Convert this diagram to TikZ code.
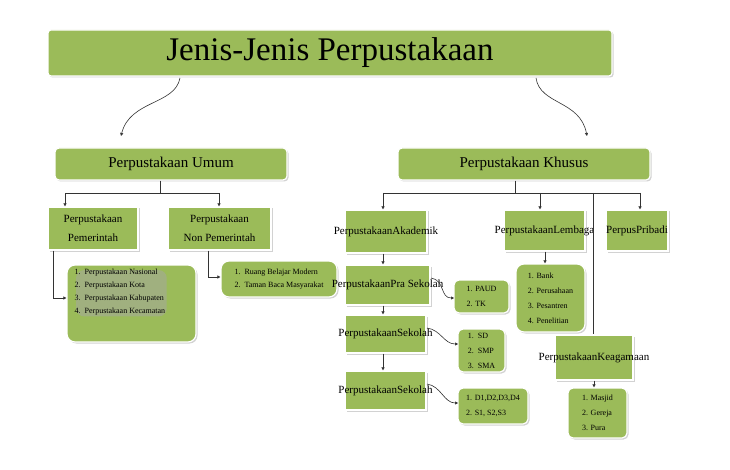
\documentclass[tikz,border=0pt]{standalone}
\usepackage{fontspec}
\setmainfont{Liberation Serif}
\usetikzlibrary{shadows,arrows.meta}
\definecolor{og}{HTML}{9BBB59}
\tikzset{
 box/.style={fill=og,draw=white,line width=1.2pt,drop shadow={shadow xshift=1.5pt,shadow yshift=-1.5pt,fill=black!35},inner sep=0pt,align=center},
 rbox/.style={box,rounded corners=8pt},
 lst/.style={rbox,align=left,font=\fontsize{8}{13}\selectfont},
 con/.style={draw=black!80,line width=0.6pt},
 arr/.style={con,-{Triangle[length=3pt,width=3pt]}},
}
\begin{document}
\begin{tikzpicture}[x=1pt,y=-1pt]
\useasboundingbox[fill=white] (0,0) rectangle (730,470);
\newcommand{\bx}[6]{\node[#1,minimum width=#4-#2,minimum height=#5-#3] (#6) at ({(#2+#4)/2},{(#3+#5)/2}) {};}
\bx{rbox,rounded corners=3pt}{48}{30}{612}{76}{title}
\node at (title) {\fontsize{33}{36}\selectfont Jenis-Jenis Perpustakaan};
\bx{rbox,rounded corners=4pt}{55}{148}{287}{180}{umum}
\node[font=\fontsize{15}{18}\selectfont] at (umum) {Perpustakaan Umum};
\bx{rbox,rounded corners=4pt}{398}{148}{650}{180}{khusus}
\node[font=\fontsize{15}{18}\selectfont] at (khusus) {Perpustakaan Khusus};
\path[arr] (180,78) .. controls (175,105) and (130,100) .. (121,136);
\path[arr] (536,78) .. controls (540,105) and (580,100) .. (587,136);
% umum children
\tikzset{bt/.style={font=\fontsize{11}{19}\selectfont}}
\bx{box}{48}{207}{138}{250}{pem} \node[bt,align=center] at (pem) {Perpustakaan\\Pemerintah};
\bx{box}{168}{207}{271}{250}{npem} \node[bt,align=center] at (npem) {Perpustakaan\\Non Pemerintah};
\coordinate (u1) at (160,193);
\path[con] (umum.south -| u1) -- (u1);
\path[arr] (u1) -| (pem.north -| 65,0);
\path[arr] (u1) -| (npem.north -| 219,0);
\bx{rbox}{67}{265}{196}{342}{pl}
\node[lst,fill=none,draw=none,drop shadow={opacity=0},anchor=north west] at (74,268) {1.\enspace Perpustakaan Nasional\\2.\enspace Perpustakaan Kota\\3.\enspace Perpustakaan Kabupaten\\4.\enspace Perpustakaan Kecamatan};
\bx{rbox}{221}{261}{337}{297}{nl}
\node[font=\fontsize{8}{13}\selectfont,align=left] at (nl) {1.\enspace Ruang Belajar Modern\\2.\enspace Taman Baca Masyarakat};
\path[arr] (pem.south -| 53,0) |- (pl.west |- 0,298);
\path[arr] (npem.south -| 208,0) |- (nl.west |- 0,277);
% khusus
\bx{box}{345}{210}{427}{253}{aka} \node[bt] at (aka) {Perpustakaan\\Akademik};
\bx{box}{504}{210}{585}{251}{lem} \node[bt] at (lem) {Perpustakaan\\Lembaga};
\bx{box}{606}{210}{668}{251}{pri} \node[bt] at (pri) {Perpus\\Pribadi};
\coordinate (k1) at (515,193);
\path[con] (khusus.south -| k1) -- (k1);
\path[con] (383,193) -- (640,193);
\path[arr] (383,193) -- (aka.north -| 383,0);
\path[arr] (540,193) -- (lem.north -| 540,0);
\path[arr] (640,193) -- (pri.north -| 640,0);
\bx{box}{555}{335}{633}{380}{kea} \node[bt] at (kea) {Perpustakaan\\Keagamaan};
\path[con] (593,193) -- (kea.north -| 593,0);
\bx{box}{345}{265}{430}{305}{pra} \node[bt] at (pra) {Perpustakaan\\Pra Sekolah};
\bx{box}{345}{315}{426}{353}{sek} \node[bt] at (sek) {Perpustakaan\\Sekolah};
\bx{box}{345}{371}{426}{410}{sek2} \node[bt] at (sek2) {Perpustakaan\\Sekolah};
\path[arr] (aka.south -| 383,0) -- (pra.north -| 383,0);
\path[arr] (pra.south -| 383,0) -- (sek.north -| 383,0);
\path[arr] (sek.south -| 383,0) -- (sek2.north -| 383,0);
\tikzset{st/.style={font=\fontsize{8}{15}\selectfont,align=left}}
\bx{rbox,rounded corners=5pt}{454}{280}{509}{313}{paud} \node[st] at (paud) {1. PAUD\\2. TK};
\bx{rbox,rounded corners=5pt}{458}{329}{505}{372}{sd} \node[st] at (sd) {1.\enspace SD\\2.\enspace SMP\\3.\enspace SMA};
\bx{rbox,rounded corners=5pt}{458}{388}{528}{424}{dd} \node[st] at (dd) {1. D1,D2,D3,D4\\2. S1, S2,S3};
\bx{rbox}{516}{264}{585}{332}{leml} \node[st] at (leml) {1. Bank\\2. Perusahaan\\3. Pesantren\\4. Penelitian};
\bx{rbox,rounded corners=5pt}{568}{388}{627}{438}{keal} \node[st] at (keal) {1. Masjid\\2. Gereja\\3. Pura};
\path[arr] (lem.south -| 545,0) -- (leml.north -| 545,0);
\path[arr] (kea.south -| 594,0) -- (keal.north -| 594,0);
\path[arr] (431,278) .. controls (445,280) and (440,298) .. (454,298);
\path[arr] (427,328) .. controls (441,330) and (444,344) .. (458,344);
\path[arr] (427,384) .. controls (441,386) and (444,403) .. (458,403);
\end{tikzpicture}
\end{document}
